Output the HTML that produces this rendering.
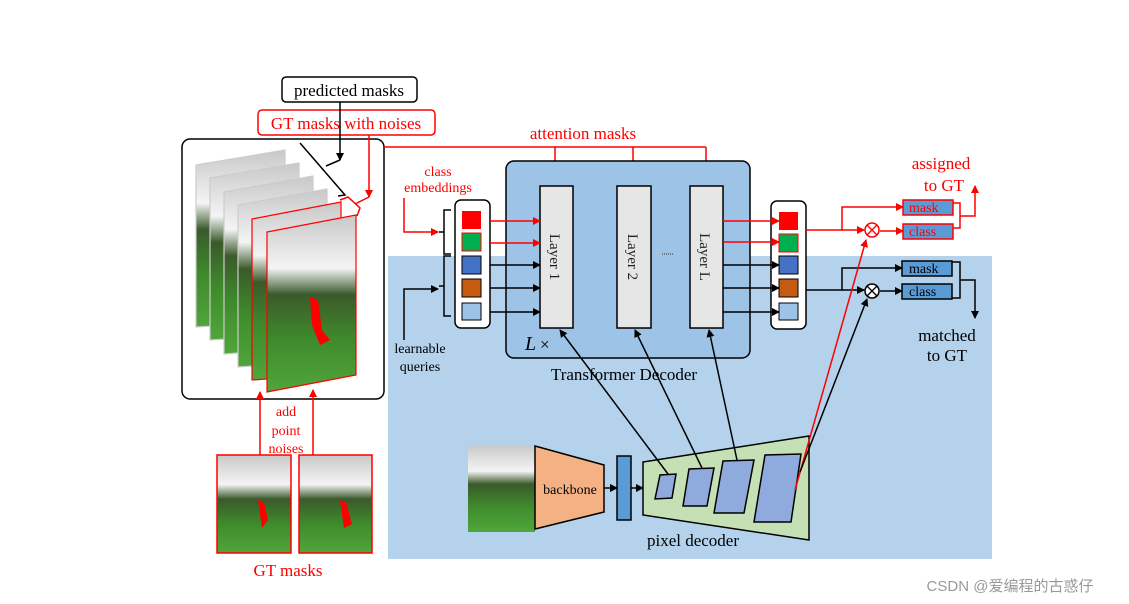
<!DOCTYPE html>
<html><head><meta charset="utf-8"><style>
body{margin:0;background:#fff;}
svg{display:block;font-family:"Liberation Serif","Noto Serif CJK SC",serif;}
</style></head><body>
<svg width="1129" height="604" viewBox="0 0 1129 604" xmlns="http://www.w3.org/2000/svg">
<defs>
<linearGradient id="img" x1="0" y1="0" x2="0" y2="1">
<stop offset="0" stop-color="#c8c8c8"/><stop offset="0.3" stop-color="#f4f4f4"/><stop offset="0.45" stop-color="#3a5a2a"/><stop offset="0.7" stop-color="#3f8a2c"/><stop offset="1" stop-color="#4fa63a"/></linearGradient>
<marker id="ab" markerWidth="8" markerHeight="8" refX="7" refY="4" orient="auto" markerUnits="userSpaceOnUse"><path d="M0,0 L8,4 L0,8z" fill="#000"/></marker>
<marker id="ar" markerWidth="8" markerHeight="8" refX="7" refY="4" orient="auto" markerUnits="userSpaceOnUse"><path d="M0,0 L8,4 L0,8z" fill="#f00"/></marker>
</defs>
<rect x="388" y="256" width="604" height="303" fill="#b4d2ec"/>
<rect x="182" y="139" width="202" height="260" rx="8" fill="#fff" stroke="#000" stroke-width="1.5"/>
<g stroke-width="1.2">
<polygon points="196,165 285,150 285,322 196,327" fill="url(#img)" stroke="#ccc"/>
<polygon points="210,178 299,163 299,335 210,340" fill="url(#img)" stroke="#ccc"/>
<polygon points="224,192 313,176 313,348 224,354" fill="url(#img)" stroke="#ccc"/>
<polygon points="238,205 327,189 327,361 238,367" fill="url(#img)" stroke="#ccc"/>
<polygon points="252,219 341,202 341,374 252,380" fill="url(#img)" stroke="#f00"/>
<polygon points="267,232 356,215 356,375 267,392" fill="url(#img)" stroke="#f00"/>
</g>
<path d="M310,297 L318,300 L322,330 L330,340 L320,345 L312,325 Z" fill="#f00"/>
<rect x="282" y="77" width="135" height="25" rx="4" fill="#fff" stroke="#000" stroke-width="1.5"/>
<text x="349" y="96" font-size="17" text-anchor="middle">predicted masks</text>
<rect x="258" y="110" width="177" height="25" rx="4" fill="#fff" stroke="#f00" stroke-width="1.5"/>
<text x="346" y="129" font-size="17" text-anchor="middle" fill="#f00">GT masks  with noises</text>
<polyline points="300,143 345,195 338,196" fill="none" stroke="#000" stroke-width="1.5"/>
<line x1="340" y1="102" x2="340" y2="160" stroke="#000" stroke-width="1.5" marker-end="url(#ab)"/>
<line x1="326" y1="166" x2="340" y2="160" stroke="#000" stroke-width="1.5"/>
<polyline points="340,200 348,197 360,208 357,216" fill="none" stroke="#f00" stroke-width="1.5"/>
<line x1="369" y1="135" x2="369" y2="197" stroke="#f00" stroke-width="1.5" marker-end="url(#ar)"/>
<line x1="369" y1="197" x2="355" y2="204" stroke="#f00" stroke-width="1.5"/>
<text x="583" y="139" font-size="17" text-anchor="middle" fill="#f00">attention masks</text>
<polyline points="384,147 706,147" fill="none" stroke="#f00" stroke-width="1.5"/>
<line x1="555" y1="147" x2="555" y2="186" stroke="#f00" stroke-width="1.5" marker-end="url(#ar)"/>
<line x1="633" y1="147" x2="633" y2="186" stroke="#f00" stroke-width="1.5" marker-end="url(#ar)"/>
<line x1="706" y1="147" x2="706" y2="186" stroke="#f00" stroke-width="1.5" marker-end="url(#ar)"/>
<rect x="506" y="161" width="244" height="197" rx="8" fill="#9dc3e6" stroke="#000" stroke-width="1.5"/>
<g fill="#e7e6e6" stroke="#000" stroke-width="1.5">
<rect x="540" y="186" width="33" height="142"/><rect x="617" y="186" width="34" height="142"/><rect x="690" y="186" width="33" height="142"/></g>
<g font-size="15" fill="#222">
<text transform="translate(550,257) rotate(90)" text-anchor="middle">Layer 1</text>
<text transform="translate(628,257) rotate(90)" text-anchor="middle">Layer 2</text>
<text transform="translate(700,257) rotate(90)" text-anchor="middle">Layer L</text></g>
<line x1="662" y1="254" x2="674" y2="254" stroke="#333" stroke-dasharray="1,1"/>
<text x="525" y="350" font-size="20" font-style="italic">L</text><text x="540" y="350" font-size="17">×</text>
<text x="624" y="380" font-size="17" text-anchor="middle">Transformer Decoder</text>
<text x="438" y="176" font-size="14" text-anchor="middle" fill="#f00">class</text>
<text x="438" y="192" font-size="14" text-anchor="middle" fill="#f00">embeddings</text>
<polyline points="404,198 404,232 438,232" fill="none" stroke="#f00" stroke-width="1.5" marker-end="url(#ar)"/>
<path d="M451,210 h-7 v22 h-5 h5 v22 h7" fill="none" stroke="#000" stroke-width="1.5"/>
<path d="M451,256 h-7 v30 h-5 h5 v30 h7" fill="none" stroke="#000" stroke-width="1.5"/>
<polyline points="404,340 404,289 438,289" fill="none" stroke="#000" stroke-width="1.5" marker-end="url(#ab)"/>
<text x="420" y="353" font-size="14" text-anchor="middle">learnable</text>
<text x="420" y="371" font-size="14" text-anchor="middle">queries</text>
<g>
<rect x="455" y="200" width="35" height="128" rx="6" fill="#fff" stroke="#000" stroke-width="1.5"/>
<rect x="462" y="211" width="19" height="18" fill="#f00"/>
<rect x="462" y="233" width="19" height="18" fill="#00b050" stroke="#f00"/>
<rect x="462" y="256" width="19" height="18" fill="#4472c4" stroke="#000"/>
<rect x="462" y="279" width="19" height="18" fill="#c55a11" stroke="#000"/>
<rect x="462" y="303" width="19" height="17" fill="#9dc3e6" stroke="#000"/>
<rect x="771" y="201" width="35" height="128" rx="6" fill="#fff" stroke="#000" stroke-width="1.5"/>
<rect x="779" y="212" width="19" height="18" fill="#f00"/>
<rect x="779" y="234" width="19" height="18" fill="#00b050" stroke="#f00"/>
<rect x="779" y="256" width="19" height="18" fill="#4472c4" stroke="#000"/>
<rect x="779" y="279" width="19" height="18" fill="#c55a11" stroke="#000"/>
<rect x="779" y="303" width="19" height="17" fill="#9dc3e6" stroke="#000"/>
</g>
<g stroke-width="1.5">
<line x1="490" y1="221" x2="540" y2="221" stroke="#f00" marker-end="url(#ar)"/>
<line x1="490" y1="243" x2="540" y2="243" stroke="#f00" marker-end="url(#ar)"/>
<line x1="490" y1="265" x2="540" y2="265" stroke="#000" marker-end="url(#ab)"/>
<line x1="490" y1="288" x2="540" y2="288" stroke="#000" marker-end="url(#ab)"/>
<line x1="490" y1="312" x2="540" y2="312" stroke="#000" marker-end="url(#ab)"/>
<line x1="723" y1="221" x2="779" y2="221" stroke="#f00" marker-end="url(#ar)"/>
<line x1="723" y1="242" x2="779" y2="242" stroke="#f00" marker-end="url(#ar)"/>
<line x1="723" y1="265" x2="779" y2="265" stroke="#000" marker-end="url(#ab)"/>
<line x1="723" y1="288" x2="779" y2="288" stroke="#000" marker-end="url(#ab)"/>
<line x1="723" y1="312" x2="779" y2="312" stroke="#000" marker-end="url(#ab)"/>
</g>
<g stroke-width="1.5" fill="none">
<polyline points="806,230 842,230 842,207 903,207" stroke="#f00" marker-end="url(#ar)"/>
<line x1="842" y1="230" x2="864" y2="230" stroke="#f00" marker-end="url(#ar)"/>
<line x1="880" y1="231" x2="903" y2="231" stroke="#f00" marker-end="url(#ar)"/>
<polyline points="953,203 960,203 960,228 953,228" stroke="#f00"/>
<polyline points="960,216 975,216 975,186" stroke="#f00" marker-end="url(#ar)"/>
<polyline points="806,290 842,290 842,268 902,268" stroke="#000" marker-end="url(#ab)"/>
<line x1="842" y1="290" x2="864" y2="290" stroke="#000" marker-end="url(#ab)"/>
<line x1="880" y1="291" x2="902" y2="291" stroke="#000" marker-end="url(#ab)"/>
<polyline points="952,262 960,262 960,298 952,298" stroke="#000"/>
<polyline points="960,280 975,280 975,318" stroke="#000" marker-end="url(#ab)"/>
</g>
<circle cx="872" cy="230" r="7" fill="#fff" stroke="#f00" stroke-width="1.5"/>
<path d="M867,225 L877,235 M877,225 L867,235" stroke="#f00" stroke-width="1.3"/>
<circle cx="872" cy="291" r="7" fill="#fff" stroke="#000" stroke-width="1.5"/>
<path d="M867,286 L877,296 M877,286 L867,296" stroke="#000" stroke-width="1.3"/>
<rect x="903" y="200" width="50" height="15" fill="#5b9bd5" stroke="#f00" stroke-width="1.5"/>
<text x="909" y="212" font-size="14" fill="#f00">mask</text>
<rect x="903" y="224" width="50" height="15" fill="#5b9bd5" stroke="#f00" stroke-width="1.5"/>
<text x="909" y="236" font-size="14" fill="#f00">class</text>
<rect x="902" y="261" width="50" height="15" fill="#5b9bd5" stroke="#000" stroke-width="1.5"/>
<text x="909" y="273" font-size="14">mask</text>
<rect x="902" y="284" width="50" height="15" fill="#5b9bd5" stroke="#000" stroke-width="1.5"/>
<text x="909" y="296" font-size="14">class</text>
<text x="941" y="169" font-size="17" text-anchor="middle" fill="#f00">assigned</text>
<text x="944" y="191" font-size="17" text-anchor="middle" fill="#f00">to GT</text>
<text x="947" y="341" font-size="17" text-anchor="middle">matched</text>
<text x="947" y="361" font-size="17" text-anchor="middle">to GT</text>
<rect x="468" y="445" width="67" height="87" fill="url(#img)"/>
<polygon points="535,446 604,465 604,512 535,529" fill="#f4b183" stroke="#000" stroke-width="1.5"/>
<text x="570" y="494" font-size="14" text-anchor="middle">backbone</text>
<line x1="604" y1="488" x2="617" y2="488" stroke="#000" stroke-width="1.5" marker-end="url(#ab)"/>
<rect x="617" y="456" width="14" height="64" fill="#5b9bd5" stroke="#000" stroke-width="1.5"/>
<line x1="631" y1="488" x2="643" y2="488" stroke="#000" stroke-width="1.5" marker-end="url(#ab)"/>
<polygon points="643,462 809,436 809,540 643,515" fill="#c5e0b4" stroke="#000" stroke-width="1.5"/>
<g fill="#8faadc" stroke="#000" stroke-width="1.5">
<polygon points="655,499 660,475 676,474 672,498"/>
<polygon points="683,506 689,469 714,468 707,506"/>
<polygon points="714,513 723,461 754,460 744,513"/>
<polygon points="754,522 765,455 801,454 791,522"/></g>
<g stroke-width="1.5" fill="none">
<line x1="795" y1="490" x2="866" y2="240" stroke="#f00" marker-end="url(#ar)"/>
<line x1="800" y1="472" x2="867" y2="299" stroke="#000" marker-end="url(#ab)"/>
</g>
<text x="693" y="546" font-size="17" text-anchor="middle">pixel decoder</text>
<g stroke="#000" stroke-width="1.5">
<line x1="668" y1="474" x2="560" y2="330" marker-end="url(#ab)"/>
<line x1="702" y1="468" x2="635" y2="330" marker-end="url(#ab)"/>
<line x1="737" y1="460" x2="709" y2="330" marker-end="url(#ab)"/></g>
<rect x="217" y="455" width="74" height="98" fill="url(#img)" stroke="#f00" stroke-width="1.5"/>
<rect x="299" y="455" width="73" height="98" fill="url(#img)" stroke="#f00" stroke-width="1.5"/>
<path d="M258,500 L264,502 L268,520 L262,528 Z" fill="#f00"/>
<path d="M340,500 L346,502 L352,524 L344,528 Z" fill="#f00"/>
<line x1="260" y1="455" x2="260" y2="392" stroke="#f00" stroke-width="1.5" marker-end="url(#ar)"/>
<line x1="313" y1="455" x2="313" y2="390" stroke="#f00" stroke-width="1.5" marker-end="url(#ar)"/>
<text x="286" y="416" font-size="14" text-anchor="middle" fill="#f00">add</text>
<text x="286" y="435" font-size="14" text-anchor="middle" fill="#f00">point</text>
<text x="286" y="453" font-size="14" text-anchor="middle" fill="#f00">noises</text>
<text x="288" y="576" font-size="17" text-anchor="middle" fill="#f00">GT masks</text>
<text x="1010" y="591" font-size="15" text-anchor="middle" fill="#999" font-family="Liberation Sans, Noto Sans CJK SC, sans-serif">CSDN @爱编程的古惑仔</text>
</svg>
</body></html>
